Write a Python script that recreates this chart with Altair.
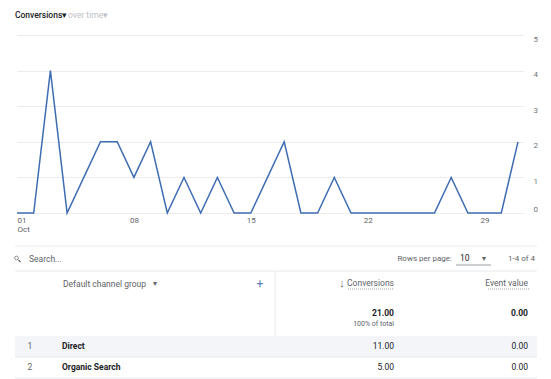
import altair as alt
import pandas as pd

# ---- data ----
days = list(range(1, 32))
daily_conversions = [0, 0, 4, 0, 1, 2, 2, 1, 2, 0, 1, 0, 1, 0, 0, 1, 2, 0, 0, 1, 0, 0,
                     0, 0, 0, 0, 1, 0, 0, 0, 2]
x_tick_days = [1, 8, 15, 22, 29]
y_ticks = [0, 1, 2, 3, 4, 5]
title_main = "Conversions▾"
title_sub = "over time▾"

row_numbers = [1, 2]
channels = ["Direct", "Organic Search"]
channel_conversions = [11.00, 5.00]
channel_event_value = [0.00, 0.00]
total_conversions = [21.00]
total_event_value = [0.00]

FONT = "Roboto"
DARK = "#202124"
GREY = "#5f6368"
LIGHT = "#bdc1c6"
LINE = "#e8eaed"
BLUE = "#3f6db3"

df = pd.DataFrame({"day": days, "conv": daily_conversions})
one = pd.DataFrame({"k": [0]})

W_TOP, H_TOP = 507, 178

line = alt.Chart(df).mark_line(color=BLUE, strokeWidth=1.5, clip=False).encode(
    x=alt.X("day:Q",
            scale=alt.Scale(domain=[1, 31.36], nice=False, zero=False),
            axis=alt.Axis(values=x_tick_days, grid=False, domain=False, ticks=False,
                          labelFlush=True, labelFontSize=8, labelColor=GREY,
                          labelFont=FONT, labelPadding=3, labelLineHeight=9,
                          labelExpr="datum.value == 1 ? ['01', 'Oct'] : (datum.value < 10 ? '0' + datum.value : '' + datum.value)",
                          title=None)),
    y=alt.Y("conv:Q",
            scale=alt.Scale(domain=[0, 5], nice=False),
            axis=alt.Axis(orient="right", values=y_ticks, grid=True, gridColor="#ececec",
                          domain=False, ticks=False, labelFontSize=8, labelColor="#70757a",
                          labelFont=FONT, labelPadding=9, labelAlign="left",
                          labelOffset={"condition": {"test": "datum.value == 0", "value": -4}, "value": 4},
                          title=None)),
)


def label(text, x, y, align="left", size=8.5, color=DARK, weight="normal", baseline="middle"):
    return alt.Chart(one).mark_text(
        text=text, align=align, baseline=baseline, fontSize=size, color=color,
        fontWeight=weight, font=FONT
    ).encode(x=alt.value(x), y=alt.value(y))


def hrule(y, x1=-2, x2=520, color=LINE, width=1, dash=None):
    kw = dict(color=color, strokeWidth=width)
    if dash:
        kw["strokeDash"] = dash
    return alt.Chart(one).mark_rule(**kw).encode(
        x=alt.value(x1), x2=alt.value(x2), y=alt.value(y))


top = alt.layer(
    line,
    label(title_main, -2, -20, size=8.5, weight=500),
    label(title_sub, 51, -20, size=8.5, color=LIGHT),
).properties(width=W_TOP, height=H_TOP)

# ---- table ----
rows = pd.DataFrame({
    "n": row_numbers,
    "channel": channels,
    "conv": channel_conversions,
    "ev": channel_event_value,
})
totals = pd.DataFrame({"conv": total_conversions, "ev": total_event_value})

row_y = alt.Y("n:Q", scale=alt.Scale(domain=[1, 2], range=[100, 121]), axis=None)

band = alt.Chart(one).mark_rect(color="#f3f5f9").encode(
    x=alt.value(-2), x2=alt.value(520), y=alt.value(90), y2=alt.value(111))

search_icon = alt.Chart(one).mark_point(shape="circle", filled=False, size=14,
                                        color=GREY, strokeWidth=1).encode(
    x=alt.value(-0.5), y=alt.value(12))
search_handle = alt.Chart(one).mark_rule(color=GREY, strokeWidth=1.2).encode(
    x=alt.value(1.5), x2=alt.value(3.5), y=alt.value(14), y2=alt.value(16))

vsep = alt.Chart(one).mark_rule(color=LINE, strokeWidth=1).encode(
    x=alt.value(258), y=alt.value(25), y2=alt.value(90))

row_num = alt.Chart(rows).mark_text(align="center", fontSize=8.5, color=GREY, font=FONT).encode(
    x=alt.value(13), y=row_y, text="n:Q")
row_name = alt.Chart(rows).mark_text(align="left", fontSize=8.5, color=DARK, font=FONT,
                                     fontWeight="bold").encode(
    x=alt.value(45), y=row_y, text="channel:N")
row_conv = alt.Chart(rows).mark_text(align="right", fontSize=8.5, color=DARK, font=FONT).encode(
    x=alt.value(377), y=row_y, text=alt.Text("conv:Q", format=".2f"))
row_ev = alt.Chart(rows).mark_text(align="right", fontSize=8.5, color=DARK, font=FONT).encode(
    x=alt.value(511), y=row_y, text=alt.Text("ev:Q", format=".2f"))

tot_conv = alt.Chart(totals).mark_text(align="right", fontSize=8.5, color=DARK, font=FONT,
                                       fontWeight="bold").encode(
    x=alt.value(377), y=alt.value(67), text=alt.Text("conv:Q", format=".2f"))
tot_ev = alt.Chart(totals).mark_text(align="right", fontSize=8.5, color=DARK, font=FONT,
                                     fontWeight="bold").encode(
    x=alt.value(511), y=alt.value(67), text=alt.Text("ev:Q", format=".2f"))

bottom = alt.layer(
    band,
    hrule(0),
    search_icon, search_handle,
    label("Search...", 12, 13, color=GREY),
    label("Rows per page:", 435, 13, align="right", size=8, color=GREY),
    label("10", 443, 12, size=8.5),
    label("▾", 467, 13, align="center", size=8, color=GREY),
    hrule(19, 439, 474, color="#9aa0a6"),
    label("1-4 of 4", 518, 13, align="right", size=8, color=GREY),
    hrule(25),
    label("Default channel group", 46, 38, color=GREY),
    label("▾", 138, 38, align="center", size=8, color=GREY),
    label("+", 243, 37.5, align="center", size=12, color="#5b7db8"),
    vsep,
    label("↓", 325, 38, align="center", size=11, color=GREY),
    label("Conversions", 377, 37, align="right", color=GREY),
    hrule(43, 331, 377, color="#9aa0a6", dash=[1, 1]),
    label("Event value", 511, 37, align="right", color=GREY),
    hrule(43, 471, 512, color="#9aa0a6", dash=[1, 1]),
    tot_conv, tot_ev,
    label("100% of total", 377, 78, align="right", size=7, color=GREY),
    row_num, row_name, row_conv, row_ev,
    hrule(111),
    hrule(132),
).properties(width=520, height=133)

chart = alt.vconcat(top, bottom, spacing=12).properties(
    padding={"left": 4, "top": 3, "right": 0, "bottom": 0}
).configure_view(stroke=None)

chart.save("out.html", embed_options={"renderer": "svg", "actions": False})
